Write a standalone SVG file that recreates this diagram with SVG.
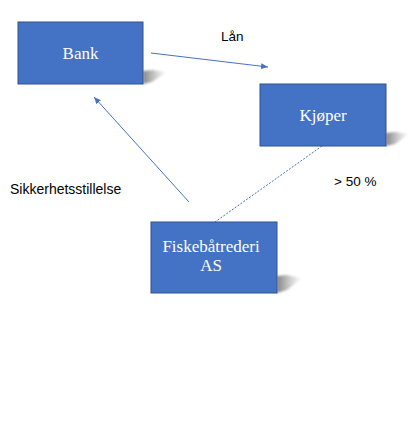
<svg xmlns="http://www.w3.org/2000/svg" width="410" height="426" viewBox="0 0 410 426">
<style>
.box{fill:#4472C4;stroke:#2F528F;stroke-width:1}
.bt{font-family:"Liberation Serif","DejaVu Serif",serif;font-size:17px;fill:#FFFFFF;text-anchor:middle}
.lbl{font-family:"Liberation Sans",Arial,sans-serif;font-size:13.5px;fill:#000000}
.conn{stroke:#4472C4;stroke-width:1;fill:none}
.dash{stroke:#4472C4;stroke-width:1;fill:none;stroke-dasharray:2 1.5}
.shadow{fill:url(#sg);filter:url(#blur)}
</style>
<defs>
<linearGradient id="sg" x1="0" y1="0" x2="1" y2="0">
<stop offset="0" stop-color="#6e6e6e" stop-opacity="0.85"/>
<stop offset="1" stop-color="#9a9a9a" stop-opacity="0"/>
</linearGradient>
<filter id="blur" x="-50%" y="-50%" width="200%" height="200%">
<feGaussianBlur stdDeviation="1.2"/>
</filter>
<marker id="ah" markerWidth="8" markerHeight="6" refX="7" refY="3" orient="auto" markerUnits="userSpaceOnUse">
<path d="M0,0 L7,3 L0,6 Z" fill="#4472C4"/>
</marker>
</defs>
<rect width="410" height="426" fill="#FFFFFF"/>
<g id="connectors">
<line class="conn" x1="151" y1="53" x2="268" y2="67" marker-end="url(#ah)"/>
<line class="conn" x1="189" y1="202" x2="94" y2="97" marker-end="url(#ah)"/>
<line class="dash" x1="322" y1="146" x2="215" y2="222"/>
</g>
<g id="bank">
<polygon class="shadow" points="143,71 152,70 167,72 152,82 143,84"/>
<rect class="box" x="18" y="22" width="125" height="62"/>
<text class="bt" x="80.5" y="59">Bank</text>
</g>
<g id="kjoper">
<polygon class="shadow" points="386,133 395,132 409,134 395,144 386,146"/>
<rect class="box" x="260" y="84" width="126" height="62"/>
<text class="bt" x="323" y="121">Kjøper</text>
</g>
<g id="fiskebatrederi">
<polygon class="shadow" points="277,276 286,275 302,278 287,290 277,293"/>
<rect class="box" x="151" y="222" width="126" height="71"/>
<text class="bt" x="211" y="252">Fiskebåtrederi</text>
<text class="bt" x="211" y="271">AS</text>
</g>
<g id="labels">
<text class="lbl" x="221" y="41">Lån</text>
<text class="lbl" x="10" y="194" style="font-size:14px">Sikkerhetsstillelse</text>
<text class="lbl" x="334" y="186">&gt; 50 %</text>
</g>
</svg>
